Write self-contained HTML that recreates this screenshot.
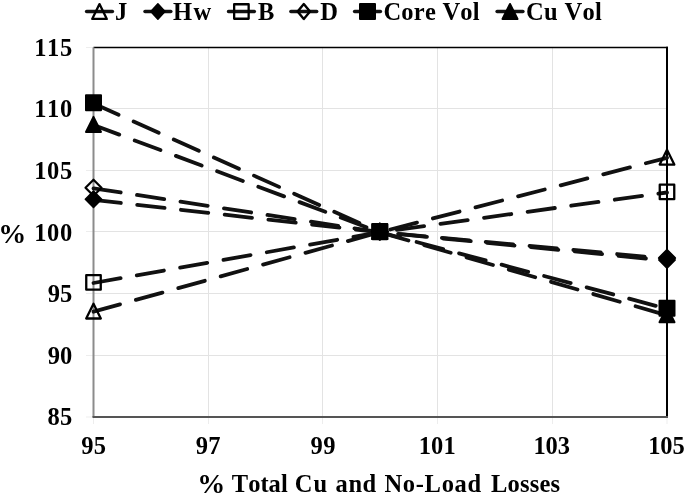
<!DOCTYPE html>
<html><head><meta charset="utf-8"><style>
html,body{margin:0;padding:0;background:#fff;}
svg{display:block;}
text{font-kerning:none;font-family:'Liberation Serif', 'Times New Roman', serif;font-weight:bold;font-size:24.5px;fill:#000;}
</style></head><body>
<svg width="686" height="495" viewBox="0 0 686 495">
<rect width="686" height="495" fill="#fff"/>
<line x1="93.5" y1="108.50" x2="667" y2="108.50" stroke="#e3e3e3" stroke-width="1"/>
<line x1="93.5" y1="170.50" x2="667" y2="170.50" stroke="#e3e3e3" stroke-width="1"/>
<line x1="93.5" y1="231.50" x2="667" y2="231.50" stroke="#e3e3e3" stroke-width="1"/>
<line x1="93.5" y1="293.50" x2="667" y2="293.50" stroke="#e3e3e3" stroke-width="1"/>
<line x1="93.5" y1="355.50" x2="667" y2="355.50" stroke="#e3e3e3" stroke-width="1"/>
<line x1="86" y1="47.50" x2="93.5" y2="47.50" stroke="#ededed" stroke-width="1"/>
<line x1="86" y1="108.50" x2="93.5" y2="108.50" stroke="#ededed" stroke-width="1"/>
<line x1="86" y1="170.50" x2="93.5" y2="170.50" stroke="#ededed" stroke-width="1"/>
<line x1="86" y1="231.50" x2="93.5" y2="231.50" stroke="#ededed" stroke-width="1"/>
<line x1="86" y1="293.50" x2="93.5" y2="293.50" stroke="#ededed" stroke-width="1"/>
<line x1="86" y1="355.50" x2="93.5" y2="355.50" stroke="#ededed" stroke-width="1"/>
<line x1="86" y1="417.00" x2="93.5" y2="417.00" stroke="#ededed" stroke-width="1"/>
<line x1="208.50" y1="47.5" x2="208.50" y2="417" stroke="#e3e3e3" stroke-width="1"/>
<line x1="322.50" y1="47.5" x2="322.50" y2="417" stroke="#e3e3e3" stroke-width="1"/>
<line x1="437.50" y1="47.5" x2="437.50" y2="417" stroke="#e3e3e3" stroke-width="1"/>
<line x1="552.50" y1="47.5" x2="552.50" y2="417" stroke="#e3e3e3" stroke-width="1"/>
<line x1="93.50" y1="417" x2="93.50" y2="424" stroke="#ededed" stroke-width="1"/>
<line x1="208.50" y1="417" x2="208.50" y2="424" stroke="#ededed" stroke-width="1"/>
<line x1="322.50" y1="417" x2="322.50" y2="424" stroke="#ededed" stroke-width="1"/>
<line x1="437.50" y1="417" x2="437.50" y2="424" stroke="#ededed" stroke-width="1"/>
<line x1="552.50" y1="417" x2="552.50" y2="424" stroke="#ededed" stroke-width="1"/>
<line x1="667.00" y1="417" x2="667.00" y2="424" stroke="#ededed" stroke-width="1"/>
<line x1="93.5" y1="47.5" x2="668" y2="47.5" stroke="#000" stroke-width="1.5"/>
<line x1="667" y1="46.75" x2="667" y2="417" stroke="#000" stroke-width="2"/>
<line x1="93.5" y1="47.5" x2="93.5" y2="417" stroke="#8c8c8c" stroke-width="2"/>
<line x1="92.5" y1="417" x2="668" y2="417" stroke="#555" stroke-width="2"/>
<path d="M93.50,311.70 L379.80,232.20 L667.00,157.80" fill="none" stroke="#111" stroke-width="3.8" stroke-linecap="round" stroke-linejoin="round" stroke-dasharray="27.5 16.5"/>
<path d="M93.50,199.90 L379.80,232.20 L667.00,260.60" fill="none" stroke="#111" stroke-width="3.8" stroke-linecap="round" stroke-linejoin="round" stroke-dasharray="27.5 16.5"/>
<path d="M93.50,283.00 L379.80,232.20 L667.00,192.50" fill="none" stroke="#111" stroke-width="3.8" stroke-linecap="round" stroke-linejoin="round" stroke-dasharray="27.5 16.5"/>
<path d="M93.50,188.30 L379.80,232.20 L667.00,258.60" fill="none" stroke="#111" stroke-width="3.8" stroke-linecap="round" stroke-linejoin="round" stroke-dasharray="27.5 16.5"/>
<path d="M93.50,103.40 L379.80,232.20 L667.00,308.80" fill="none" stroke="#111" stroke-width="3.8" stroke-linecap="round" stroke-linejoin="round" stroke-dasharray="27.5 16.5"/>
<path d="M93.50,125.00 L379.80,232.20 L667.00,315.40" fill="none" stroke="#111" stroke-width="3.8" stroke-linecap="round" stroke-linejoin="round" stroke-dasharray="27.5 16.5"/>
<path d="M93.50,303.70 L100.80,318.50 L86.20,318.50 Z" fill="none" stroke="#000" stroke-width="2.3" stroke-linejoin="round"/>
<path d="M379.80,224.20 L387.10,239.00 L372.50,239.00 Z" fill="none" stroke="#000" stroke-width="2.3" stroke-linejoin="round"/>
<path d="M667.00,149.80 L674.30,164.60 L659.70,164.60 Z" fill="none" stroke="#000" stroke-width="2.3" stroke-linejoin="round"/>
<path d="M93.50,191.10 L101.70,199.30 L93.50,207.50 L85.30,199.30 Z" fill="#000" stroke="#000" stroke-width="1.5" stroke-linejoin="round"/>
<path d="M379.80,223.40 L388.00,231.60 L379.80,239.80 L371.60,231.60 Z" fill="#000" stroke="#000" stroke-width="1.5" stroke-linejoin="round"/>
<path d="M667.00,251.80 L675.20,260.00 L667.00,268.20 L658.80,260.00 Z" fill="#000" stroke="#000" stroke-width="1.5" stroke-linejoin="round"/>
<rect x="86.25" y="275.15" width="14.50" height="14.50" fill="none" stroke="#000" stroke-width="2.3" stroke-linejoin="round"/>
<rect x="372.55" y="224.35" width="14.50" height="14.50" fill="none" stroke="#000" stroke-width="2.3" stroke-linejoin="round"/>
<rect x="659.75" y="184.65" width="14.50" height="14.50" fill="none" stroke="#000" stroke-width="2.3" stroke-linejoin="round"/>
<path d="M93.50,179.70 L101.50,187.70 L93.50,195.70 L85.50,187.70 Z" fill="none" stroke="#000" stroke-width="2.2" stroke-linejoin="round"/>
<path d="M379.80,223.60 L387.80,231.60 L379.80,239.60 L371.80,231.60 Z" fill="none" stroke="#000" stroke-width="2.2" stroke-linejoin="round"/>
<path d="M667.00,250.00 L675.00,258.00 L667.00,266.00 L659.00,258.00 Z" fill="none" stroke="#000" stroke-width="2.2" stroke-linejoin="round"/>
<rect x="86.00" y="95.30" width="15.00" height="15.00" fill="#000" stroke="#000" stroke-width="2" stroke-linejoin="round"/>
<rect x="372.30" y="224.10" width="15.00" height="15.00" fill="#000" stroke="#000" stroke-width="2" stroke-linejoin="round"/>
<rect x="659.50" y="300.70" width="15.00" height="15.00" fill="#000" stroke="#000" stroke-width="2" stroke-linejoin="round"/>
<path d="M93.50,116.90 L101.00,131.90 L86.00,131.90 Z" fill="#000" stroke="#000" stroke-width="2" stroke-linejoin="round"/>
<path d="M379.80,224.10 L387.30,239.10 L372.30,239.10 Z" fill="#000" stroke="#000" stroke-width="2" stroke-linejoin="round"/>
<path d="M667.00,307.30 L674.50,322.30 L659.50,322.30 Z" fill="#000" stroke="#000" stroke-width="2" stroke-linejoin="round"/>
<text x="34.24" y="55.75" style="letter-spacing:0.60px">115</text>
<text x="34.24" y="117.33" style="letter-spacing:0.62px">110</text>
<text x="34.24" y="178.92" style="letter-spacing:0.60px">105</text>
<text x="34.24" y="240.50" style="letter-spacing:0.62px">100</text>
<text x="47.63" y="302.08" style="letter-spacing:0.07px">95</text>
<text x="47.63" y="363.67" style="letter-spacing:0.10px">90</text>
<text x="47.49" y="425.25" style="letter-spacing:0.21px">85</text>
<text x="81.13" y="454.30" style="letter-spacing:0.47px">95</text>
<text x="195.83" y="454.30" style="letter-spacing:0.17px">97</text>
<text x="310.53" y="454.30" style="letter-spacing:0.46px">99</text>
<text x="418.79" y="454.30" style="letter-spacing:0.09px">101</text>
<text x="533.49" y="454.30" style="letter-spacing:-0.13px">103</text>
<text x="648.19" y="454.30" style="letter-spacing:-0.10px">105</text>
<text x="197.13" y="492.60" style="font-size:28px">%</text>
<text x="231.82" y="492.00" style="letter-spacing:0.02px">Total</text>
<text x="294.80" y="492.00" style="letter-spacing:1.04px">Cu</text>
<text x="335.61" y="492.00" style="letter-spacing:0.53px">and</text>
<text x="384.43" y="492.00" style="letter-spacing:0.70px">No-Load</text>
<text x="490.98" y="492.00" style="letter-spacing:0.19px">Losses</text>
<text x="-1.67" y="243.30" style="font-size:28px">%</text>
<line x1="86.60" y1="11.5" x2="112.40" y2="11.5" stroke="#111" stroke-width="3.5" stroke-linecap="round"/>
<path d="M99.50,4.10 L106.80,18.90 L92.20,18.90 Z" fill="none" stroke="#000" stroke-width="2.3" stroke-linejoin="round"/>
<text x="115.11" y="19.50">J</text>
<line x1="145.00" y1="11.5" x2="170.80" y2="11.5" stroke="#111" stroke-width="3.5" stroke-linecap="round"/>
<path d="M157.90,3.70 L165.00,11.50 L157.90,19.30 L150.80,11.50 Z" fill="#000" stroke="#000" stroke-width="1.5" stroke-linejoin="round"/>
<text x="172.98" y="19.50" style="letter-spacing:1.40px">Hw</text>
<line x1="228.50" y1="11.5" x2="254.30" y2="11.5" stroke="#111" stroke-width="3.5" stroke-linecap="round"/>
<rect x="234.15" y="4.25" width="14.50" height="14.50" fill="none" stroke="#000" stroke-width="2.3" stroke-linejoin="round"/>
<text x="257.99" y="19.50">B</text>
<line x1="290.90" y1="11.5" x2="316.70" y2="11.5" stroke="#111" stroke-width="3.5" stroke-linecap="round"/>
<path d="M303.80,4.10 L310.00,11.50 L303.80,18.90 L297.60,11.50 Z" fill="none" stroke="#000" stroke-width="2.4" stroke-linejoin="round"/>
<text x="320.37" y="19.50">D</text>
<line x1="354.60" y1="11.5" x2="380.40" y2="11.5" stroke="#111" stroke-width="3.5" stroke-linecap="round"/>
<rect x="360.00" y="4.00" width="15.00" height="15.00" fill="#000" stroke="#000" stroke-width="2" stroke-linejoin="round"/>
<text x="383.40" y="19.50" style="letter-spacing:0.24px">Core Vol</text>
<line x1="497.10" y1="11.5" x2="522.90" y2="11.5" stroke="#111" stroke-width="3.5" stroke-linecap="round"/>
<path d="M510.00,4.00 L517.50,19.00 L502.50,19.00 Z" fill="#000" stroke="#000" stroke-width="2" stroke-linejoin="round"/>
<text x="526.10" y="19.50" style="letter-spacing:0.30px">Cu Vol</text>
</svg>
</body></html>
